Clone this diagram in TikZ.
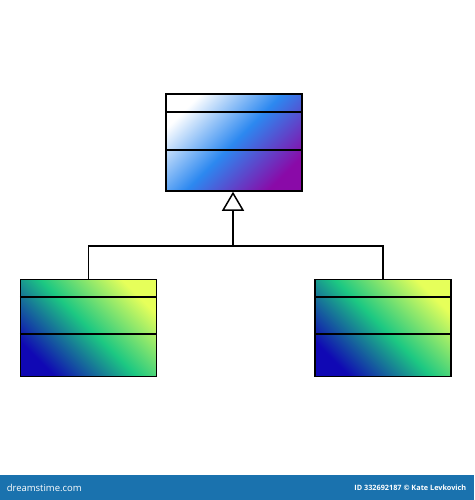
\documentclass[tikz,border=0pt]{standalone}
\usepackage{fontspec}
\setsansfont{Open Sans}
\usetikzlibrary{arrows.meta,positioning}
\definecolor{skyblue}{HTML}{2C88F0}
\definecolor{plum}{HTML}{8A0AA8}
\definecolor{lemon}{HTML}{E6FF5A}
\definecolor{mint}{HTML}{1CC882}
\definecolor{deepblue}{HTML}{1008B4}
\definecolor{banner}{HTML}{1A72AE}

\begin{document}
\begin{tikzpicture}[x=1pt,y=-1pt,line width=1.5pt,
  class/.style={draw,rectangle,inner sep=0pt,minimum width=136pt,minimum height=97pt},
  parent/.style={class,top color=white,bottom color=plum,middle color=skyblue,shading angle=45},
  child/.style={class,top color=lemon,bottom color=deepblue,middle color=mint,shading angle=-45},
  inherit/.style={-{Triangle[open,length=19pt,width=22pt,line width=1.5pt]}},
  stamp/.style={text=white,font=\sffamily\fontsize{9.5}{11}\selectfont,inner sep=0pt}]
  \useasboundingbox (0,0) rectangle (474,500);

  % classes
  \node [parent] (base)  at (234,142.5) {};
  \node [child]  (left)  at (88.5,328)  {};
  \node [child]  (right) at (383,328)   {};

  % compartments
  \draw (base.west |- 0,112) -- (base.east |- 0,112);
  \draw (base.west |- 0,150) -- (base.east |- 0,150);
  \foreach \c in {left,right} {
    \draw (\c.west |- 0,297) -- (\c.east |- 0,297);
    \draw (\c.west |- 0,334) -- (\c.east |- 0,334);
  }

  % generalisation
  \coordinate (join) at (233,246);
  \draw (left.north) |- (join) -| (right.north);
  \draw [inherit] (join) -- (base.south -| join);

  % banner
  \fill [banner] (0,475) rectangle (474,500);
  \node [stamp,anchor=west] (site) at (6,488) {dreamstime.com};
  \node [stamp,anchor=east,font=\sffamily\bfseries\fontsize{7.3}{9}\selectfont] (credit) at (467,488) {ID 332692187 \textcopyright{} Kate Levkovich};
\end{tikzpicture}
\end{document}
